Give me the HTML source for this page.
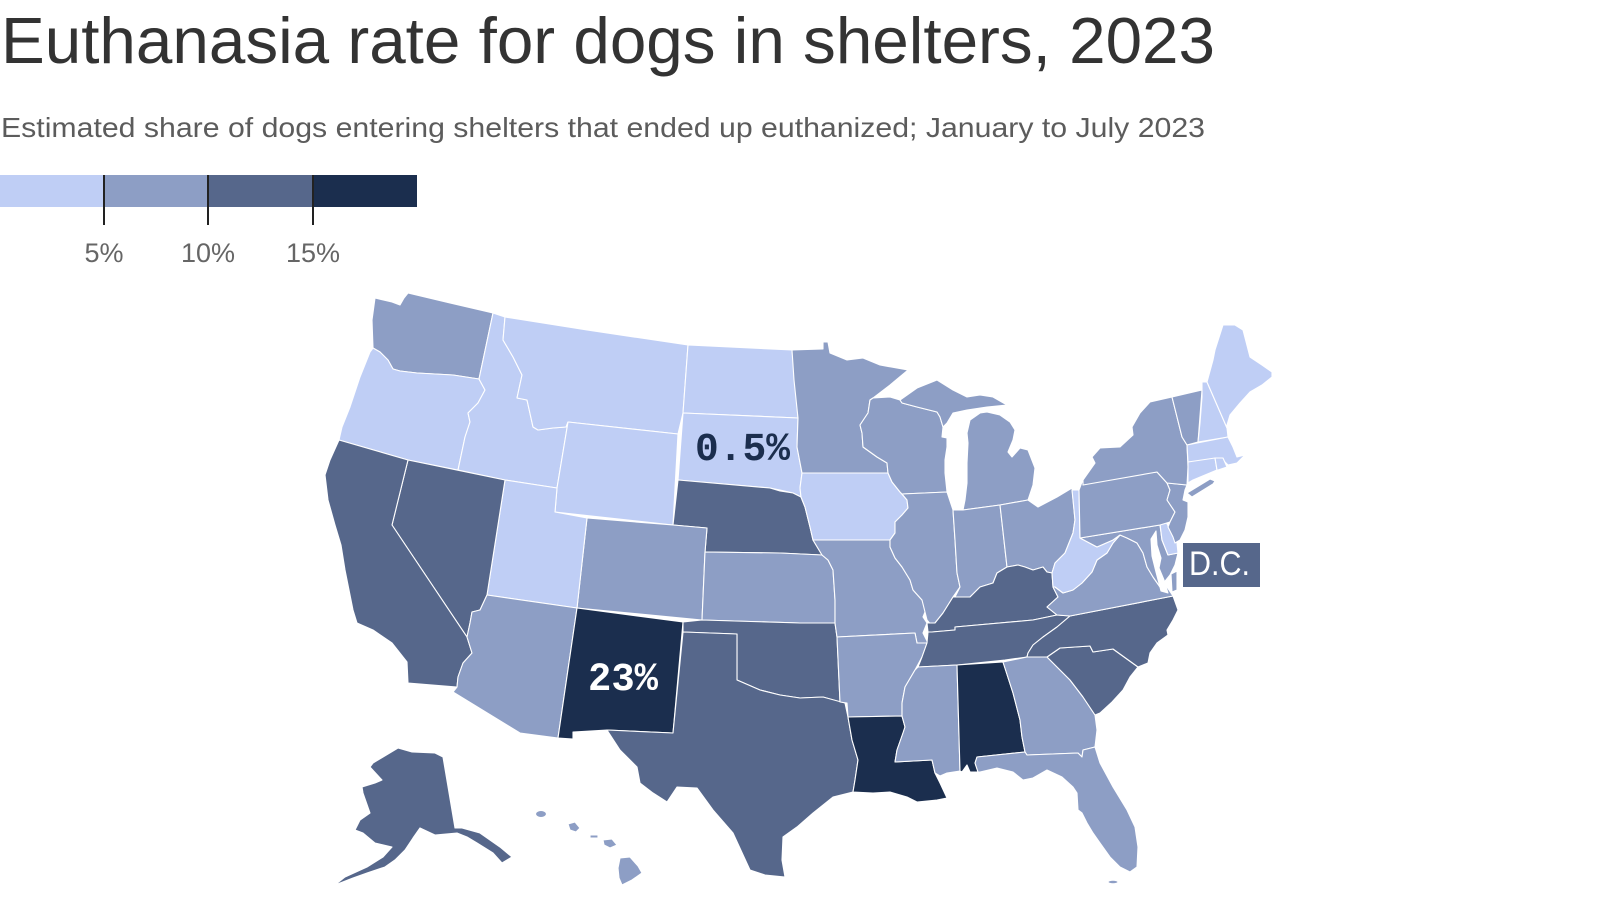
<!DOCTYPE html>
<html>
<head>
<meta charset="utf-8">
<style>
  html,body{margin:0;padding:0;background:#fff;}
  svg{display:block;}
  .st polygon,.st ellipse{stroke:#fff;stroke-width:1.1;stroke-linejoin:round;}
  .L{fill:#bfcef5;} .M{fill:#8d9ec5;} .D{fill:#56678b;} .X{fill:#1b2e4e;}
</style>
</head>
<body>
<svg width="1600" height="900" viewBox="0 0 1600 900" xmlns="http://www.w3.org/2000/svg">
  <rect width="1600" height="900" fill="#fff"/>
  <text x="1" y="63" font-family="Liberation Sans, sans-serif" font-size="65" fill="#333" textLength="1214" lengthAdjust="spacingAndGlyphs">Euthanasia rate for dogs in shelters, 2023</text>
  <text x="1" y="137" font-family="Liberation Sans, sans-serif" font-size="28" fill="#5c5c5c" textLength="1204" lengthAdjust="spacingAndGlyphs">Estimated share of dogs entering shelters that ended up euthanized; January to July 2023</text>

  <!-- legend -->
  <rect x="0" y="175" width="104" height="32" fill="#bfcef5"/>
  <rect x="104" y="175" width="104" height="32" fill="#8d9ec5"/>
  <rect x="208" y="175" width="105" height="32" fill="#56678b"/>
  <rect x="313" y="175" width="104" height="32" fill="#1b2e4e"/>
  <line x1="104" y1="175" x2="104" y2="225" stroke="#222" stroke-width="2"/>
  <line x1="208" y1="175" x2="208" y2="225" stroke="#222" stroke-width="2"/>
  <line x1="313" y1="175" x2="313" y2="225" stroke="#222" stroke-width="2"/>
  <g font-family="Liberation Sans, sans-serif" font-size="27" fill="#666" text-anchor="middle">
    <text x="104" y="262">5%</text>
    <text x="208" y="262">10%</text>
    <text x="313" y="262">15%</text>
  </g>

  <g class="st">
    <polygon class="M" points="375,298 392,302 400,305 404,298 408,293 450,303 493,313 479,379 453,375 417,373 400,371 393,369 388,360 380,352 373,348 372,320"/>
    <polygon class="L" points="373,348 380,352 388,360 393,369 400,371 417,373 453,375 479,379 485,390 478,403 468,413 470,422 465,437 458,470 408,460 339,440 342,427 350,407 360,377 370,352"/>
    <polygon class="L" points="493,313 505,317 503,340 513,357 522,375 517,398 527,400 533,427 538,430 553,428 566,427 568,422 557,488 505,480 458,470 465,437 470,422 468,413 478,403 485,390 479,379"/>
    <polygon class="L" points="505,317 587,330 688,345 683,413 678,434 568,422 566,427 553,428 538,430 533,427 527,400 517,398 522,375 513,357 503,340"/>
    <polygon class="L" points="688,345 792,350 794,370 798,418 683,413"/>
    <polygon class="L" points="683,413 798,418 797,447 802,473 800,488 801,497 793,493 780,490 770,488 678,480"/>
    <polygon class="L" points="568,422 678,434 673,525 555,512 557,488"/>
    <polygon class="D" points="678,480 770,488 780,491 793,493 801,497 805,507 810,527 813,540 822,555 780,553 705,552 707,528 673,525"/>
    <polygon class="M" points="587,518 673,525 707,528 705,552 702,620 577,608"/>
    <polygon class="L" points="505,480 557,488 555,512 587,518 577,608 487,595"/>
    <polygon class="D" points="408,460 505,480 487,595 480,610 472,612 470,623 467,637 392,525"/>
    <polygon class="D" points="339,440 408,460 392,525 467,637 472,653 463,663 458,677 457,687 408,683 407,662 392,643 373,630 357,623 353,610 350,595 345,570 341,545 335,525 328,500 325,475 330,460"/>
    <polygon class="M" points="487,595 577,608 558,738 520,733 453,692 457,687 458,677 463,663 472,653 467,637 470,623 472,612 480,610"/>
    <polygon class="X" points="577,608 683,622 673,733 607,730 573,732 573,739 558,738"/>
    <polygon class="M" points="705,552 780,553 822,555 828,560 833,570 835,600 835,623 800,623 702,620"/>
    <polygon class="D" points="683,622 702,620 800,623 835,623 837,637 840,702 823,697 800,698 780,695 760,690 737,680 737,634 683,632"/>
    <polygon class="D" points="683,632 737,634 737,680 760,690 780,695 800,698 823,697 845,703 848,717 852,740 858,760 855,780 853,792 833,797 813,813 797,827 783,837 782,860 785,877 765,875 750,870 733,833 713,810 697,788 677,787 667,802 653,793 640,783 637,767 620,750 607,730 673,733"/>
    <polygon class="M" points="792,350 823,349 823,342 828,342 830,353 847,360 863,358 880,365 908,370 890,385 873,398 870,400 868,413 860,425 862,433 863,447 877,457 887,463 888,473 802,473 797,447 798,418 794,380"/>
    <polygon class="L" points="802,473 888,473 892,482 900,492 907,500 908,508 902,515 895,522 895,533 890,540 813,540 810,527 805,507 801,497 800,488"/>
    <polygon class="M" points="813,540 890,540 890,547 895,558 902,567 910,580 913,590 922,600 927,607 923,617 927,623 923,633 928,643 917,643 915,633 837,637 835,623 835,600 833,570 828,560 822,555"/>
    <polygon class="M" points="837,637 915,633 917,643 927,643 922,657 915,670 905,687 902,703 902,716 848,717 847,703 840,702"/>
    <polygon class="X" points="848,717 902,716 905,727 903,733 897,750 895,762 932,760 935,773 940,783 947,798 937,800 917,802 907,797 890,792 873,793 853,792 855,780 858,760 852,740"/>
    <polygon class="M" points="873,398 890,397 900,400 902,403 917,407 937,412 940,417 943,427 942,437 947,438 947,447 945,460 945,473 947,492 902,494 900,492 892,482 888,473 887,463 877,457 863,447 862,433 860,425 868,413 870,400"/>
    <polygon class="M" points="900,400 917,388 937,380 953,390 967,397 980,395 993,397 1007,405 987,407 967,410 953,413 947,423 943,427 940,417 937,412 917,407 902,403"/>
    <polygon class="M" points="963,510 1000,505 1028,500 1033,485 1035,468 1028,450 1020,448 1012,457 1008,452 1013,440 1015,430 1010,422 1000,415 987,412 980,413 970,420 967,433 968,443 967,463 967,483 965,500"/>
    <polygon class="M" points="902,494 947,492 953,510 955,540 957,573 960,587 953,597 943,613 935,623 932,626 927,620 922,600 913,590 910,580 902,567 895,558 890,547 890,540 895,533 895,522 902,515 908,508 907,500"/>
    <polygon class="M" points="953,510 963,510 1000,505 1007,567 997,573 993,583 980,587 970,597 955,597 960,587 957,573 955,540"/>
    <polygon class="M" points="1000,505 1028,500 1038,507 1057,497 1072,488 1075,520 1073,533 1065,553 1055,563 1052,573 1047,572 1043,567 1033,570 1025,567 1018,565 1007,567"/>
    <polygon class="D" points="927,623 935,623 943,613 953,597 970,597 980,587 993,583 997,573 1007,567 1018,565 1025,567 1033,570 1043,567 1047,572 1052,573 1053,587 1058,597 1047,607 1057,615 1033,620 955,627 955,630 932,632 928,632"/>
    <polygon class="D" points="932,632 955,630 955,627 1033,620 1057,615 1070,616 1057,627 1043,637 1033,645 1028,653 1027,657 1005,660 957,665 918,667 922,657 927,643 928,632"/>
    <polygon class="M" points="918,667 957,665 960,771 947,773 940,776 935,773 932,760 895,762 897,750 903,733 905,727 902,716 902,703 905,687 915,670"/>
    <polygon class="X" points="957,665 1003,662 1013,693 1020,720 1022,737 1025,752 977,757 975,763 978,772 970,772 967,765 962,772 960,771"/>
    <polygon class="M" points="1003,662 1027,657 1047,657 1057,667 1070,680 1083,697 1095,715 1097,730 1095,747 1083,750 1082,757 1078,753 1027,755 1025,752 1022,737 1020,720 1013,693"/>
    <polygon class="M" points="977,757 1025,752 1027,755 1078,753 1082,757 1083,750 1095,747 1100,763 1113,787 1127,810 1135,827 1138,847 1137,867 1130,872 1120,867 1110,857 1100,843 1093,833 1087,823 1082,813 1078,810 1077,793 1073,787 1062,777 1047,770 1033,778 1023,780 1013,772 997,768 980,772 978,772 975,763"/>
    <ellipse class="M" cx="1113" cy="882" rx="5" ry="1.8"/>
    <polygon class="D" points="1047,657 1060,648 1090,646 1093,652 1113,649 1138,667 1130,677 1123,690 1112,702 1100,713 1095,715 1083,697 1070,680 1057,667"/>
    <polygon class="D" points="1070,616 1173,596 1178,610 1173,620 1167,630 1168,635 1157,643 1150,653 1148,663 1138,667 1113,649 1093,652 1090,646 1060,648 1047,657 1027,657 1028,653 1033,645 1043,637 1057,627"/>
    <polygon class="M" points="1053,587 1055,587 1063,593 1073,590 1082,583 1092,572 1097,560 1107,553 1113,543 1120,535 1127,538 1137,543 1143,553 1147,567 1153,577 1160,587 1167,587 1173,596 1070,616 1057,615 1047,607 1058,597"/>
    <polygon class="L" points="1072,490 1079,490 1080,538 1097,547 1113,540 1120,535 1113,543 1107,553 1097,560 1092,572 1082,583 1073,590 1063,593 1055,587 1053,587 1052,573 1055,563 1065,553 1073,533 1075,520"/>
    <polygon class="M" points="1080,538 1160,525 1162,540 1168,555 1178,553 1175,565 1170,575 1166,580 1160,587 1153,577 1147,567 1143,553 1137,543 1127,538 1120,535 1113,540 1097,547"/>
    <polygon points="1151,539 1156,531 1157,545 1161,558 1159,568 1164,580 1168,593 1161,591 1156,572 1152,556" fill="#fff" stroke="none"/>
    <polygon class="M" points="1171,574 1177,571 1177,590 1172,592"/>
    <polygon class="L" points="1160,524 1166,522 1172,533 1177,543 1178,553 1168,555 1162,540"/>
    <polygon class="M" points="1082,482 1157,472 1167,483 1170,490 1167,500 1175,512 1170,522 1160,525 1080,538 1079,490"/>
    <polygon class="M" points="1167,483 1187,485 1185,490 1183,500 1188,502 1188,517 1185,530 1180,540 1175,543 1173,537 1171,533 1168,527 1170,522 1175,512 1167,500 1170,490"/>
    <polygon class="M" points="1083,485 1083,480 1095,463 1092,457 1100,448 1120,447 1133,435 1132,427 1140,413 1150,402 1172,397 1177,417 1182,437 1187,445 1188,467 1187,485 1167,483 1157,472"/>
    <polygon class="M" points="1187,493 1210,479 1215,481 1213,484 1192,497"/>
    <polygon class="M" points="1172,397 1202,390 1198,442 1187,445 1182,437 1177,417"/>
    <polygon class="L" points="1202,382 1207,382 1227,428 1228,437 1198,442 1200,423 1202,397"/>
    <polygon class="L" points="1207,382 1213,360 1215,350 1223,325 1235,325 1243,330 1250,357 1262,365 1272,372 1272,377 1262,385 1250,392 1240,403 1230,415 1227,425 1227,428"/>
    <polygon class="L" points="1187,445 1228,437 1233,447 1237,457 1245,455 1237,463 1228,465 1223,460 1188,462"/>
    <polygon class="L" points="1188,462 1215,458 1217,470 1193,480 1188,483"/>
    <polygon class="L" points="1215,458 1223,458 1227,467 1218,470 1217,470"/>
    <!-- Alaska -->
    <polygon class="D" points="373,763 398,748 412,752 435,753 443,757 455,828 462,828 480,833 500,847 512,857 502,863 493,853 477,843 467,837 457,833 435,835 420,828 413,838 405,850 395,860 385,867 367,873 353,878 335,885 345,877 367,867 383,857 392,847 375,843 363,833 355,830 360,820 370,813 363,793 362,787 375,783 382,780 370,767"/>
    <!-- Hawaii -->
    <ellipse class="M" cx="541" cy="814" rx="5.5" ry="3.5"/>
    <polygon class="M" points="568,824 575,822 580,828 576,832 570,830"/>
    <polygon class="M" points="590,835 598,835 598,838 590,838"/>
    <polygon class="M" points="603,840 612,839 617,845 610,848 604,845"/>
    <polygon class="M" points="620,858 630,857 638,866 642,873 632,880 622,885 619,878 618,868"/>
  </g>

  <text x="695" y="460" font-family="Liberation Mono, DejaVu Sans Mono, monospace" font-weight="bold" font-size="40" fill="#1b2e4e" textLength="95" lengthAdjust="spacingAndGlyphs">0.5%</text>
  <text x="588" y="690" font-family="Liberation Mono, DejaVu Sans Mono, monospace" font-weight="bold" font-size="40" fill="#fff" textLength="70" lengthAdjust="spacingAndGlyphs">23%</text>

  <rect x="1183" y="543" width="77" height="44" fill="#56678b"/>
  <text x="1189" y="575" font-family="Liberation Sans, sans-serif" font-size="34" fill="#fff" textLength="61" lengthAdjust="spacingAndGlyphs">D.C.</text>
</svg>
</body>
</html>
